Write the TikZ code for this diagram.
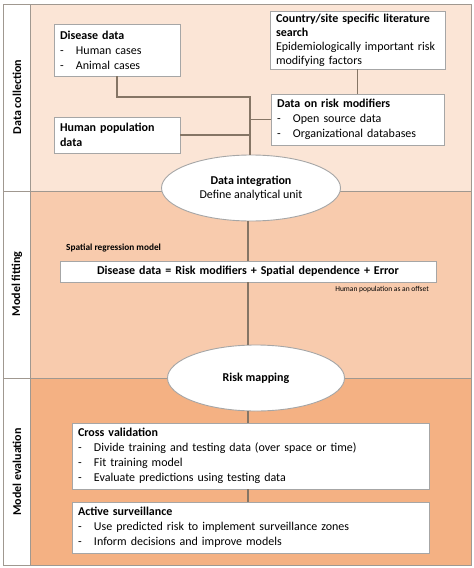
\documentclass[tikz,border=0pt]{standalone}
\usepackage{fontspec}
\setmainfont{Carlito}
\usetikzlibrary{shapes.geometric,calc}
\definecolor{secA}{HTML}{FBE5D6}
\definecolor{secB}{HTML}{F8CBAD}
\definecolor{secC}{HTML}{F4B183}
\definecolor{framec}{HTML}{A09890}
\definecolor{connc}{HTML}{857565}
\definecolor{boxline}{HTML}{A6A6A6}
\newcommand{\itm}[1]{\makebox[16pt][l]{-}#1}
\begin{document}
\begin{tikzpicture}[x=1pt,y=-1pt,
  panel/.style={draw=framec,line width=0.9pt},
  box/.style={draw=boxline,fill=white,line width=0.9pt,anchor=north west,inner xsep=6pt,inner ysep=2pt,align=left,outer sep=0pt,font=\fontsize{12}{15}\selectfont},
  oval/.style={ellipse,draw=boxline,fill=white,line width=0.9pt,align=center,inner sep=0pt,outer sep=0pt,font=\fontsize{12}{14}\selectfont},
  conn/.style={draw=connc,line width=1.3pt},
  seclabel/.style={rotate=90,font=\bfseries\fontsize{12}{14}\selectfont}]
\useasboundingbox (0,0) rectangle (474,568);
\fill[white] (0,0) rectangle (474,568);
% panels
\draw[panel,fill=white] (3,4) rectangle (471,565);
\draw[panel,fill=secA] (30,4) rectangle (471,191);
\draw[panel,fill=secB] (30,191) rectangle (471,378);
\draw[panel,fill=secC] (30,378) rectangle (471,565);
\draw[panel] (3,191) -- (30,191);
\draw[panel] (3,378) -- (30,378);
% section labels
\node[seclabel] (l1) at (17,97) {Data collection};
\node[seclabel] (l2) at (17,284) {Model fitting};
\node[seclabel] (l3) at (17,472) {Model evaluation};
% data collection boxes
\node[box,text width=114pt,minimum height=52pt] (dis) at (54,24)
  {\textbf{Disease data}\\\itm{Human cases}\\\itm{Animal cases}};
\node[box,text width=114pt,minimum height=36pt] (hp) at (54,117)
  {\textbf{Human population}\\\textbf{data}};
\node[box,text width=163pt,minimum height=58pt,font=\fontsize{12}{14}\selectfont] (cs) at (270,11)
  {\textbf{Country/site specific literature}\\\textbf{search}\\Epidemiologically important risk\\modifying factors};
\node[box,text width=161pt,minimum height=51pt] (rm) at (271,94)
  {\textbf{Data on risk modifiers}\\\itm{Open source data}\\\itm{Organizational databases}};
\node[oval,minimum width=179pt,minimum height=66pt] (dint) at (251,188)
  {\textbf{Data integration}\\Define analytical unit};
% model fitting
\node[anchor=west,inner sep=0pt,font=\bfseries\fontsize{9.3}{11}\selectfont] (srm) at (66,248) {Spatial regression model};
\node[box,text width=364pt,minimum height=21pt,align=center,inner ysep=0pt,font=\bfseries\fontsize{12}{14}\selectfont] (eq) at (60,261)
  {Disease data = Risk modifiers + Spatial dependence + Error};
\node[anchor=east,inner sep=0pt,font=\fontsize{7.5}{9}\selectfont] (hpo) at (429,289) {Human population as an offset};
\node[oval,minimum width=177pt,minimum height=66pt] (rmap) at (256,378) {\textbf{Risk mapping}};
% model evaluation
\node[box,text width=345pt,minimum height=66pt] (cv) at (72,423)
  {\textbf{Cross validation}\\\itm{Divide training and testing data (over space or time)}\\\itm{Fit training model}\\\itm{Evaluate predictions using testing data}};
\node[box,text width=345pt,minimum height=51pt] (as) at (72,502)
  {\textbf{Active surveillance}\\\itm{Use predicted risk to implement surveillance zones}\\\itm{Inform decisions and improve models}};
% connectors
\coordinate (j1) at (250,97);
\coordinate (j2) at (248,300);
\draw[conn] (dis.south) |- (j1) -- (dint.north -| j1);
\draw[conn] (hp.east) -- (hp.east -| j1);
\draw[conn] (rm.west) -- (rm.west -| j1);
\draw[conn] (cs.south) -- (rm.north -| cs.south);
\draw[conn] (dint.south -| j2) -- (eq.north -| j2);
\draw[conn] (eq.south -| j2) -- (rmap.north -| j2);
\draw[conn] (rmap.south -| j2) -- (cv.north -| j2);
\draw[conn] (cv.south -| j2) -- (as.north -| j2);
\end{tikzpicture}
\end{document}
